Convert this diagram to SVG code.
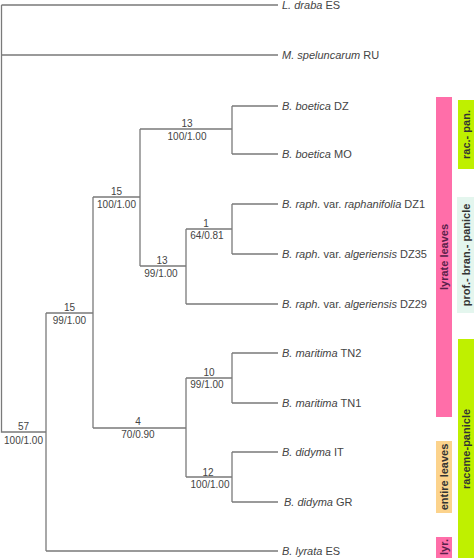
<svg xmlns="http://www.w3.org/2000/svg" width="474" height="558" viewBox="0 0 474 558">
<style>
.e{fill:none;stroke:#7a7a7a;stroke-width:1.3}
.lf{font-family:"Liberation Sans",Arial,sans-serif;font-size:11px;fill:#444}
.i{font-style:italic}
.n{font-family:"Liberation Sans",Arial,sans-serif;font-size:10px;fill:#444;text-anchor:middle}
.bt{font-family:"Liberation Sans",Arial,sans-serif;font-size:11px;font-weight:bold;text-anchor:middle;dominant-baseline:central}
</style>
<rect width="474" height="558" fill="#fff"/>
<g id="connectors">
<path class="e" d="M1.5,5H278M1.5,55H278M1.5,5V432H46"/>
<path class="e" d="M46,313V551M46,313H93M46,551H278"/>
<path class="e" d="M93,197V428M93,197H140M93,428H186"/>
<path class="e" d="M140,129V266M140,129H232M140,266H186"/>
<path class="e" d="M232,106V154M232,106H278M232,154H278"/>
<path class="e" d="M186,229V304M186,229H232M186,304H278"/>
<path class="e" d="M232,204V254M232,204H278M232,254H278"/>
<path class="e" d="M186,378V477M186,378H232M186,477H232"/>
<path class="e" d="M232,353V403M232,353H278M232,403H278"/>
<path class="e" d="M232,452V502M232,452H278M232,502H278"/>
</g>
<g id="node-labels">
<text class="n" x="23.5" y="429.5">57</text><text class="n" x="23.5" y="443.5">100/1.00</text>
<text class="n" x="69.5" y="311">15</text><text class="n" x="69.5" y="324">99/1.00</text>
<text class="n" x="116.5" y="195">15</text><text class="n" x="116.5" y="208">100/1.00</text>
<text class="n" x="187" y="127">13</text><text class="n" x="187" y="140">100/1.00</text>
<text class="n" x="162" y="264">13</text><text class="n" x="161" y="277">99/1.00</text>
<text class="n" x="206" y="227">1</text><text class="n" x="207" y="239">64/0.81</text>
<text class="n" x="138" y="424.5">4</text><text class="n" x="138" y="438">70/0.90</text>
<text class="n" x="209" y="375.5">10</text><text class="n" x="207" y="388">99/1.00</text>
<text class="n" x="208" y="475.5">12</text><text class="n" x="210" y="488">100/1.00</text>
</g>
<g id="leaf-ldraba"><text class="lf" x="282" y="9"><tspan class="i">L. draba</tspan> ES</text></g>
<g id="leaf-mspel"><text class="lf" x="282" y="59"><tspan class="i">M. speluncarum</tspan> RU</text></g>
<g id="leaf-boeticaDZ"><text class="lf" x="282" y="110"><tspan class="i">B. boetica</tspan> DZ</text></g>
<g id="leaf-boeticaMO"><text class="lf" x="282" y="158"><tspan class="i">B. boetica</tspan> MO</text></g>
<g id="leaf-DZ1"><text class="lf" x="282" y="208"><tspan class="i">B. raph.</tspan> var. <tspan class="i">raphanifolia</tspan> DZ1</text></g>
<g id="leaf-DZ35"><text class="lf" x="282" y="258"><tspan class="i">B. raph.</tspan> var. <tspan class="i">algeriensis</tspan> DZ35</text></g>
<g id="leaf-DZ29"><text class="lf" x="282" y="308"><tspan class="i">B. raph.</tspan> var. <tspan class="i">algeriensis</tspan> DZ29</text></g>
<g id="leaf-TN2"><text class="lf" x="282" y="357"><tspan class="i">B. maritima</tspan> TN2</text></g>
<g id="leaf-TN1"><text class="lf" x="282" y="407"><tspan class="i">B. maritima</tspan> TN1</text></g>
<g id="leaf-IT"><text class="lf" x="282" y="456"><tspan class="i">B. didyma</tspan> IT</text></g>
<g id="leaf-GR"><text class="lf" x="284" y="506"><tspan class="i">B. didyma</tspan> GR</text></g>
<g id="leaf-lyrata"><text class="lf" x="282" y="555"><tspan class="i">B. lyrata</tspan> ES</text></g>
<g id="bar-lyrate">
<rect x="436" y="97" width="16" height="320" fill="#ff6ea9"/>
<text class="bt" fill="#5a1f4a" transform="translate(444,257) rotate(-90)">lyrate leaves</text>
</g>
<g id="bar-entire">
<rect x="436" y="441" width="16" height="72" fill="#fcd38c"/>
<text class="bt" fill="#333" transform="translate(444,477) rotate(-90)">entire leaves</text>
</g>
<g id="bar-lyr">
<rect x="436" y="537" width="16" height="21" fill="#ff6ea9"/>
<text class="bt" fill="#5a1f4a" transform="translate(444,547) rotate(-90)">lyr.</text>
</g>
<g id="bar-racpan">
<rect x="458" y="100" width="16" height="69" fill="#bff000"/>
<text class="bt" fill="#333" transform="translate(466,134.5) rotate(-90)">rac.- pan.</text>
</g>
<g id="bar-prof">
<rect x="457" y="197" width="17" height="116" fill="#e4f6ee"/>
<text class="bt" fill="#333" transform="translate(466,255) rotate(-90)">prof.- bran.- panicle</text>
</g>
<g id="bar-raceme">
<rect x="458" y="339" width="16" height="219" fill="#bff000"/>
<text class="bt" fill="#333" transform="translate(466,449) rotate(-90)">raceme-panicle</text>
</g>
</svg>
